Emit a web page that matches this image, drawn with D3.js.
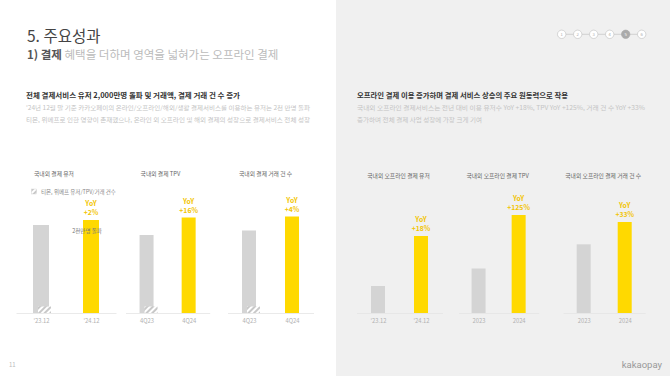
<!DOCTYPE html>
<html>
<head>
<meta charset="utf-8">
<script src="https://cdn.jsdelivr.net/npm/d3@7"></script>
<style>
  body { margin: 0; background: #fff; }
  svg { display: block; font-family: "Noto Sans CJK KR", "Noto Sans", sans-serif; }
</style>
</head>
<body>
<div id="chart"></div>
<script>
// chart data (bar heights, relative index)
var chartTitles = ["국내외 결제 유저", "국내외 결제 TPV", "국내외 결제 거래 건 수",
                   "국내외 오프라인 결제 유저", "국내외 오프라인 결제 TPV", "국내외 오프라인 결제 거래 건 수"];
var periodLabels = [["'23.12", "'24.12"], ["4Q23", "4Q24"], ["4Q23", "4Q24"],
                    ["'23.12", "'24.12"], ["2023", "2024"], ["2023", "2024"]];
var prevValues = [88, 78, 82.5, 27, 44.5, 68.7];
var currValues = [93, 95.5, 96.5, 77, 98, 91];
var hatchValues = [6.5, 6.5, 6.5, 0, 0, 0];
var yoyLabels = ["+2%", "+16%", "+4%", "+18%", "+125%", "+33%"];

var W = 670, H = 376;

var svg = d3.select("#chart").append("svg")
    .attr("width", W)
    .attr("height", H);

// hatch pattern
var defs = svg.append("defs");
var pat = defs.append("pattern")
    .attr("id", "hatch")
    .attr("patternUnits", "userSpaceOnUse")
    .attr("width", 4).attr("height", 4)
    .attr("patternTransform", "rotate(45)");
pat.append("rect").attr("width", 4).attr("height", 4).attr("fill", "#fff");
pat.append("rect").attr("width", 2).attr("height", 4).attr("fill", "#c8c8c8");

// backgrounds
svg.append("rect").attr("width", W).attr("height", H).attr("fill", "#fff");
svg.append("rect").attr("x", 336).attr("width", W - 336).attr("height", H).attr("fill", "#f0f0f0");

// header
svg.append("text").attr("x", 27).attr("y", 42)
    .attr("font-size", 15.5).attr("fill", "#444").text("5. 주요성과");
var sub = svg.append("text").attr("x", 27).attr("y", 59).attr("font-size", 11.5);
sub.append("tspan").attr("fill", "#555").attr("font-weight", "bold").text("1) 결제 ");
sub.append("tspan").attr("fill", "#bbb").text("혜택을 더하며 영역을 넓혀가는 오프라인 결제");

// page indicator
var pages = [1, 2, 3, 4, 5, 6];
var px = d3.scalePoint().domain(pages).range([561.7, 641.7]);
svg.append("line").attr("x1", px(1)).attr("x2", px(6)).attr("y1", 34.3).attr("y2", 34.3)
    .attr("stroke", "#c4c4c4").attr("stroke-width", 0.7);
var pg = svg.selectAll(".pg").data(pages).enter().append("g")
    .attr("transform", function(d) { return "translate(" + px(d) + ",34.3)"; });
pg.append("circle").attr("r", 4.2)
    .attr("fill", function(d) { return d === 5 ? "#aaa" : "#fff"; })
    .attr("stroke", function(d) { return d === 5 ? "#aaa" : "#c4c4c4"; })
    .attr("stroke-width", 0.7);
pg.append("text").attr("y", 1.6).attr("text-anchor", "middle").attr("font-size", 4.2)
    .attr("fill", function(d) { return d === 5 ? "#fff" : "#aaa"; })
    .text(function(d) { return d; });

// section texts
function section(x, head, lines, widths) {
    svg.append("text").attr("x", x).attr("y", 98).attr("font-size", 7.2)
        .attr("font-weight", "bold").attr("fill", "#333")
        .attr("textLength", widths[0]).attr("lengthAdjust", "spacingAndGlyphs")
        .text(head);
    lines.forEach(function(t, i) {
        svg.append("text").attr("x", x).attr("y", 110 + i * 12.3).attr("font-size", 5.8)
            .attr("fill", "#c4c4c4")
            .attr("textLength", widths[i + 1]).attr("lengthAdjust", "spacingAndGlyphs")
            .text(t);
    });
}
section(26, "전체 결제서비스 유저 2,000만명 돌파 및 거래액, 결제 거래 건 수 증가",
    ["'24년 12월 말 기준 카카오페이의 온라인/오프라인/해외/생활 결제서비스를 이용하는 유저는 2천 만명 돌파",
     "티몬, 위메프로 인한 영향이 존재했으나, 온라인 외 오프라인 및 해외 결제의 성장으로 결제서비스 전체 성장"],
    [214, 284, 284]);
section(357, "오프라인 결제 이용 증가하며 결제 서비스 상승의 주요 원동력으로 작용",
    ["국내외 오프라인 결제서비스는 전년 대비 이용 유저수 YoY +18%, TPV YoY +125%, 거래 건 수 YoY +33%",
     "증가하며 전체 결제 사업 성장에 가장 크게 기여"],
    [211, 288, 125]);

// chart layout
var layout = [
    {x0: 16, x1: 116, bw: 16},
    {x0: 125.5, x1: 209.7, bw: 14},
    {x0: 227.5, x1: 313.5, bw: 14},
    {x0: 356.5, x1: 442.5, bw: 14},
    {x0: 458.5, x1: 538.7, bw: 14},
    {x0: 563.2, x1: 645.2, bw: 14}
];

var y = d3.scaleLinear().domain([0, 100]).range([313, 213]);

chartTitles.forEach(function(title, i) {
    var L = layout[i];
    var x = d3.scalePoint().domain(periodLabels[i]).range([L.x0, L.x1]).padding(0.5);
    var g = svg.append("g");

    var bars = [
        {label: periodLabels[i][0], value: prevValues[i], color: "#d4d4d4"},
        {label: periodLabels[i][1], value: currValues[i], color: "#ffd900"}
    ];

    g.selectAll(".bar").data(bars).enter().append("rect")
        .attr("x", function(d) { return x(d.label) - L.bw / 2; })
        .attr("y", function(d) { return y(d.value); })
        .attr("width", L.bw)
        .attr("height", function(d) { return y(0) - y(d.value); })
        .attr("fill", function(d) { return d.color; });

    if (hatchValues[i] > 0) {
        g.append("rect")
            .attr("x", x(periodLabels[i][0]) - L.bw / 2 + 5)
            .attr("y", y(hatchValues[i]))
            .attr("width", 13)
            .attr("height", y(0) - y(hatchValues[i]))
            .attr("fill", "url(#hatch)");
    }

    // axis
    var axis = g.append("g")
        .attr("transform", "translate(0," + y(0) + ")")
        .call(d3.axisBottom(x).tickSize(0).tickPadding(6));
    axis.select(".domain").attr("stroke", "#e4e4e4").attr("stroke-width", 0.8);
    axis.selectAll("text").attr("font-size", 5.8).attr("fill", "#b0b0b0")
        .attr("font-family", "'Noto Sans CJK KR', sans-serif");

    // title
    var left = i < 3;
    g.append("text")
        .attr("x", left ? x(periodLabels[i][0]) - L.bw / 2 + (i === 2 ? -3 : 1) : (L.x0 + L.x1) / 2 - 1)
        .attr("y", left ? 176 : 177.5)
        .attr("text-anchor", left ? "start" : "middle")
        .attr("font-size", 5.8).attr("fill", "#666")
        .text(title);

    // YoY
    var cx = x(periodLabels[i][1]), top = y(currValues[i]);
    g.append("text").attr("x", cx).attr("y", top - 14).attr("text-anchor", "middle")
        .attr("font-size", 6.8).attr("font-weight", "bold").attr("fill", "#f2c400").text("YoY");
    g.append("text").attr("x", cx).attr("y", top - 5).attr("text-anchor", "middle")
        .attr("font-size", 6.8).attr("font-weight", "bold").attr("fill", "#f2c400").text(yoyLabels[i]);
});

// legend for hatched part
svg.append("rect").attr("x", 31.5).attr("y", 189).attr("width", 5).attr("height", 5)
    .attr("fill", "url(#hatch)").attr("stroke", "#ccc").attr("stroke-width", 0.4);
svg.append("text").attr("x", 41).attr("y", 193.8).attr("font-size", 5.5).attr("fill", "#888")
    .text("티몬, 위메프 유저/TPV/거래 건수");

// annotation
svg.append("text").attr("x", 87).attr("y", 233).attr("text-anchor", "middle")
    .attr("font-size", 5.5).attr("fill", "#777").text("2천만명 돌파");

// footer
svg.append("text").attr("x", 9).attr("y", 367).attr("font-size", 6).attr("fill", "#bbb").text("11");
svg.append("text").attr("x", 662).attr("y", 368).attr("text-anchor", "end")
    .attr("font-size", 9.5).attr("fill", "#999").attr("font-family", "Roboto, sans-serif").text("kakaopay");
</script>
</body>
</html>
